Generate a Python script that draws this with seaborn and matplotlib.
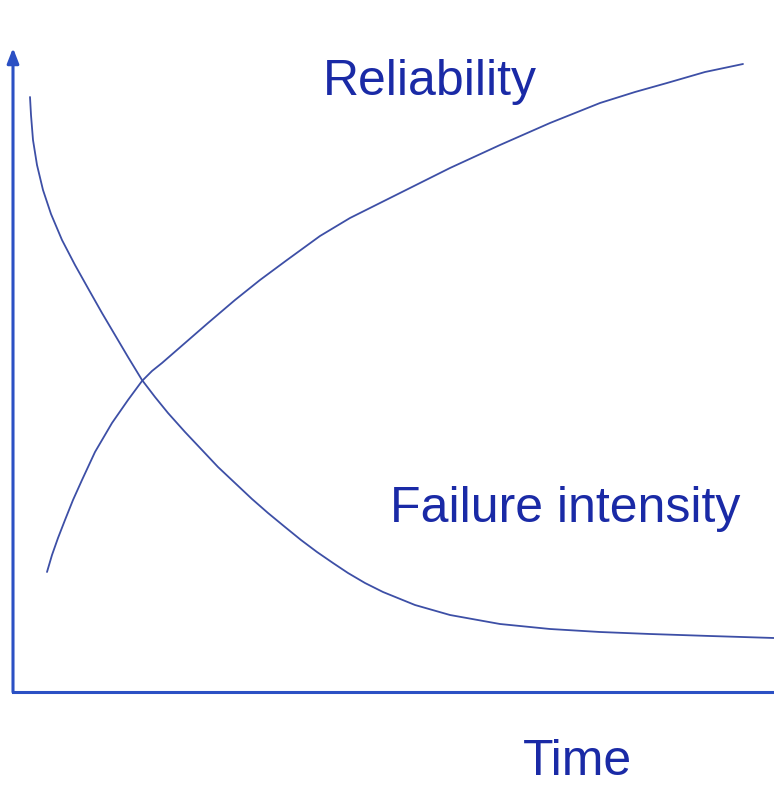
import numpy as np
import pandas as pd
import matplotlib.pyplot as plt
import seaborn as sns

# Dados (unidades arbitrarias: tempo x nivel)
tempo_falha = [17, 18, 20, 24, 30, 38, 49, 62, 76, 89, 102, 115, 129, 142, 155, 172, 189, 205,
               222, 239, 255, 272, 288, 304, 320, 335, 352, 370, 402, 437, 487, 537, 587, 637, 697, 761]
intensidade_falha = [595, 577, 552, 527, 502, 478, 452, 427, 402, 379, 357, 335, 312, 295, 279, 260, 242, 225,
                     209, 193, 179, 165, 152, 140, 129, 119, 109, 100, 87, 77, 68, 63, 60, 58, 56, 54]

tempo_conf = [34, 39, 45, 52, 60, 69, 82, 99, 115, 129, 139, 149, 172, 195, 222, 247, 274,
              307, 337, 387, 437, 487, 537, 587, 622, 654, 692, 730]
confiabilidade = [120, 137, 154, 172, 192, 212, 240, 269, 292, 311, 321, 329, 349, 369, 392, 412, 432,
                  456, 474, 499, 524, 547, 569, 589, 600, 609, 620, 628]

rotulos = ['Reliability', 'Failure intensity']
rotulo_x = 'Time'

cor_linha = '#3d4fa6'
cor_eixo = '#2b50c4'
cor_texto = '#1a2aa6'

sns.set_style('white')
plt.rcParams['font.family'] = ['Liberation Sans', 'DejaVu Sans']

fig = plt.figure(figsize=(7.74, 7.85), dpi=100)
ax = fig.add_axes([13 / 774, 93 / 785, 761 / 774, 644 / 785])

df_falha = pd.DataFrame({'t': tempo_falha, 'v': intensidade_falha})
df_conf = pd.DataFrame({'t': tempo_conf, 'v': confiabilidade})
sns.lineplot(data=df_falha, x='t', y='v', ax=ax, color=cor_linha, linewidth=1.3,
             sort=False, solid_joinstyle='round')
sns.lineplot(data=df_conf, x='t', y='v', ax=ax, color=cor_linha, linewidth=1.3,
             sort=False, solid_joinstyle='round')

ax.set_xlim(0, 761)
ax.set_ylim(0, 644)
ax.set_xticks([])
ax.set_yticks([])
ax.set_xlabel('')
ax.set_ylabel('')

for lado in ['top', 'right', 'left']:
    ax.spines[lado].set_visible(False)
ax.spines['bottom'].set_color(cor_eixo)
ax.spines['bottom'].set_linewidth(2.2)

# eixo y com seta
ax.annotate('', xy=(0, 1.0), xytext=(0, 0), xycoords='axes fraction',
            arrowprops=dict(arrowstyle='-|>,head_length=0.9,head_width=0.35',
                            color=cor_eixo, lw=2.2, shrinkA=0, shrinkB=0),
            annotation_clip=False)

ax.text(310, 597, rotulos[0], fontsize=36, color=cor_texto, ha='left', va='baseline')
ax.text(377, 170, rotulos[1], fontsize=36, color=cor_texto, ha='left', va='baseline')
ax.text(510, -83, rotulo_x, fontsize=36, color=cor_texto, ha='left', va='baseline', clip_on=False)

fig.savefig('out.png', dpi=100)
